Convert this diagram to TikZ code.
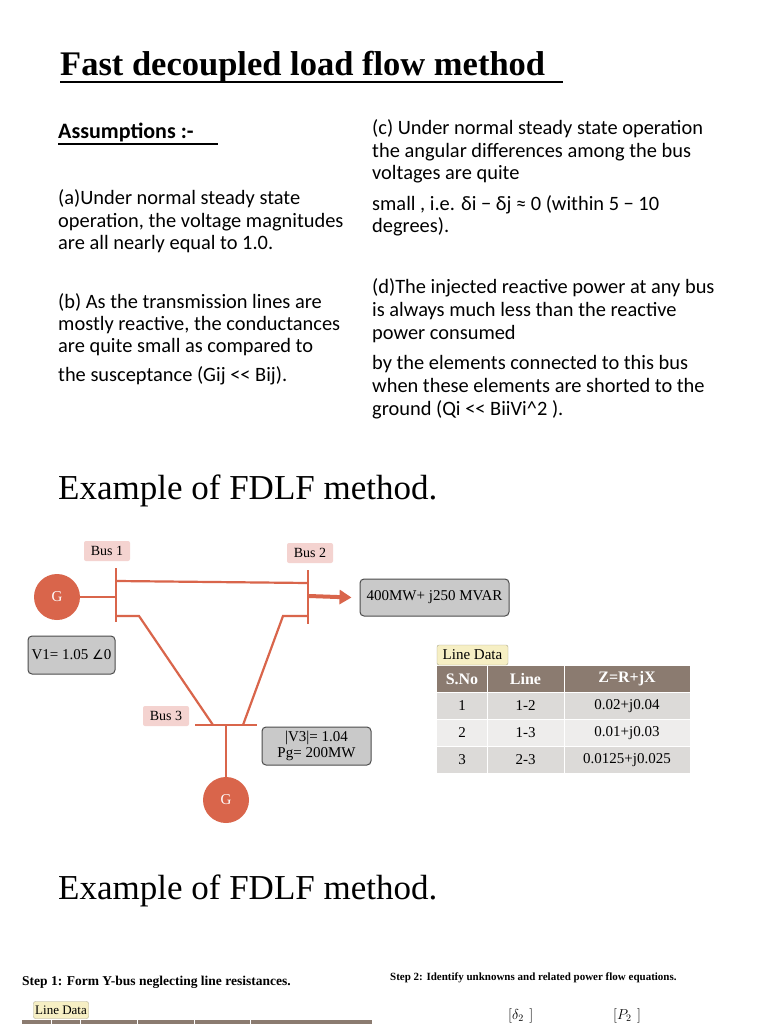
\documentclass[tikz,border=0pt]{standalone}
\usepackage{fontspec}
\setmainfont{Liberation Serif}
\newfontfamily\calfont{Carlito}
\newfontfamily\djv{DejaVu Sans}
\usetikzlibrary{arrows.meta}
\definecolor{ored}{HTML}{D9654B}
\definecolor{pinkl}{HTML}{F4D3D0}
\definecolor{grayb}{HTML}{C9C9C9}
\definecolor{brownh}{HTML}{8B7B70}
\definecolor{rowa}{HTML}{DCDAD8}
\definecolor{rowb}{HTML}{EEEDEC}
\definecolor{yell}{HTML}{F6EFC4}
\tikzset{
 body/.style={anchor=base west,inner sep=0pt,font=\calfont\fontsize{20.4}{22}\selectfont},
 big/.style={anchor=base west,inner sep=0pt,font=\fontsize{35}{38}\selectfont},
 wire/.style={draw=ored,line width=2.2pt},
 gen/.style={circle,fill=ored,minimum size=46pt,inner sep=0pt,text=white,font=\fontsize{15}{16}\selectfont},
 buslbl/.style={fill=pinkl,rounded corners=2pt,minimum width=46pt,minimum height=20pt,inner sep=0pt,font=\fontsize{14}{15}\selectfont},
 info/.style={fill=grayb,draw=black!70,line width=1pt,rounded corners=4pt,inner sep=0pt,align=center,font=\fontsize{15}{16}\selectfont},
 cell/.style={inner sep=0pt,font=\fontsize{15}{16}\selectfont},
 hcell/.style={inner sep=0pt,text=white,font=\bfseries\fontsize{16}{17}\selectfont}
}
\begin{document}
\begin{tikzpicture}[x=1pt,y=-1pt]
\useasboundingbox[fill=white] (0,0) rectangle (768,1024);
% title
\node[anchor=base west,inner sep=0pt,font=\bfseries\fontsize{34.5}{38}\selectfont] (title) at (60,76) {Fast decoupled load flow method};
\draw[line width=1.5pt] (60,82) -- (563,82);
\node[body,font=\calfont\bfseries\fontsize{22}{24}\selectfont] (assum) at (58,139) {Assumptions :-};
\draw[line width=1.2pt] (58,144) -- (218,144);
\node[body] (a1) at (58,205) {(a)Under normal steady state};
\node[body] (a2) at (58,227) {operation, the voltage magnitudes};
\node[body] (a3) at (58,249) {are all nearly equal to 1.0.};
\node[body] (b1) at (58,308) {(b) As the transmission lines are};
\node[body] (b2) at (58,330) {mostly reactive, the conductances};
\node[body] (b3) at (58,352) {are quite small as compared to};
\node[body] (b4) at (58,381) {the susceptance (Gij << Bij).};
\node[body] (c1) at (372,135) {(c) Under normal steady state operation};
\node[body] (c2) at (372,158) {the angular differences among the bus};
\node[body] (c3) at (372,180) {voltages are quite};
\node[body] (c4) at (372,211) {small , i.e. δi − δj ≈ 0 (within 5 − 10};
\node[body] (c5) at (372,233) {degrees).};
\node[body] (d1) at (372,293) {(d)The injected reactive power at any bus};
\node[body] (d2) at (372,316) {is always much less than the reactive};
\node[body] (d3) at (372,339) {power consumed};
\node[body] (d4) at (372,369) {by the elements connected to this bus};
\node[body] (d5) at (372,392) {when these elements are shorted to the};
\node[body] (d6) at (372,415) {ground (Qi << BiiVi\textasciicircum2 ).};
\node[big] (ex1) at (58,499) {Example of FDLF method.};
\node[big] (ex2) at (58,899) {Example of FDLF method.};
% diagram
\node[buslbl] (bl1) at (107,551) {Bus 1};
\node[buslbl] (bl2) at (310,553) {Bus 2};
\node[buslbl] (bl3) at (166,716) {Bus 3};
\coordinate (b1t) at (116,568); \coordinate (b1b) at (116,622);
\coordinate (b2t) at (308,570); \coordinate (b2b) at (308,624);
\coordinate (b3l) at (195,725); \coordinate (b3r) at (257,725);
\draw[wire] (b1t) -- (b1b);
\draw[wire] (b2t) -- (b2b);
\draw[wire] (b3l) -- (b3r);
\node[gen] (g1) at (57,597) {G};
\node[gen] (g3) at (226,800) {G};
\draw[wire] (g1) -- (116,597);
\draw[wire] (117,581) -- (308,583);
\draw[wire] (117,616) -- (139,616) -- (213,725);
\draw[wire] (307,616) -- (283,616) -- (243,725);
\draw[wire] (226,725) -- (g3);
\node[info,minimum width=149pt,minimum height=37pt] (load) at (434.5,597.5) {400MW+ j250 MVAR};
\draw[ored,line width=4pt,-{Triangle[length=12pt,width=14pt]}] (309,596) -- ([xshift=-8pt]load.west);
\node[info,minimum width=87pt,minimum height=38pt] (v1) at (71.5,655) {V1= 1.05 {\djv\fontsize{13}{14}\selectfont ∠}0};
\node[info,minimum width=109pt,minimum height=38pt] (v3) at (316.5,746) {|V3|= 1.04\\Pg= 200MW};
% table
\node[fill=yell,draw=yell!70!black,rounded corners=2pt,minimum width=71pt,minimum height=20pt,inner sep=0pt,font=\fontsize{15}{16}\selectfont] (ld) at (472.5,655) {Line Data};
\fill[brownh] (437,666) rectangle (690,692);
\fill[rowa] (437,692) rectangle (690,719);
\fill[rowb] (437,719) rectangle (690,746);
\fill[rowa] (437,746) rectangle (690,773);
\draw[white,line width=1pt] (487,666) -- (487,773) (564,666) -- (564,773) (437,692) -- (690,692) (437,719)--(690,719) (437,746)--(690,746);
\node[hcell] (h1) at (462,679) {S.No};
\node[hcell] (h2) at (525.5,679) {Line};
\node[hcell] (h3) at (627,679) {Z=R+jX};
\node[cell] (r11) at (462,706) {1}; \node[cell] (r12) at (525.5,706) {1-2}; \node[cell] (r13) at (627,706) {0.02+j0.04};
\node[cell] (r21) at (462,733) {2}; \node[cell] (r22) at (525.5,733) {1-3}; \node[cell] (r23) at (627,733) {0.01+j0.03};
\node[cell] (r31) at (462,760) {3}; \node[cell] (r32) at (525.5,760) {2-3}; \node[cell] (r33) at (627,760) {0.0125+j0.025};
% bottom
\node[anchor=base west,inner sep=0pt,font=\bfseries\fontsize{13.5}{14}\selectfont] (s1) at (22,985) {Step 1: Form Y-bus neglecting line resistances.};
\node[anchor=base west,inner sep=0pt,font=\bfseries\fontsize{11}{12}\selectfont] (s2) at (390,980) {Step 2: Identify unknowns and related power flow equations.};
\node[fill=yell,draw=yell!70!black,rounded corners=2pt,minimum width=55pt,minimum height=17pt,inner sep=0pt,font=\fontsize{13}{14}\selectfont] (ld2) at (61,1010) {Line Data};
\fill[brownh] (22,1020) rectangle (372,1024);
\draw[white,line width=1pt] (51,1020)--(51,1024) (80,1020)--(80,1024) (137,1020)--(137,1024) (194,1020)--(194,1024) (250,1020)--(250,1024);
\node[anchor=base west,inner sep=0pt,font=\fontsize{14}{15}\selectfont] (m1) at (508,1019) {$\left[\delta_2\right.$\hspace{3pt}$\left.\right]$};
\node[anchor=base west,inner sep=0pt,font=\fontsize{14}{15}\selectfont] (m2) at (613,1019) {$\left[P_2\right.$\hspace{3pt}$\left.\right]$};
\end{tikzpicture}
\end{document}
